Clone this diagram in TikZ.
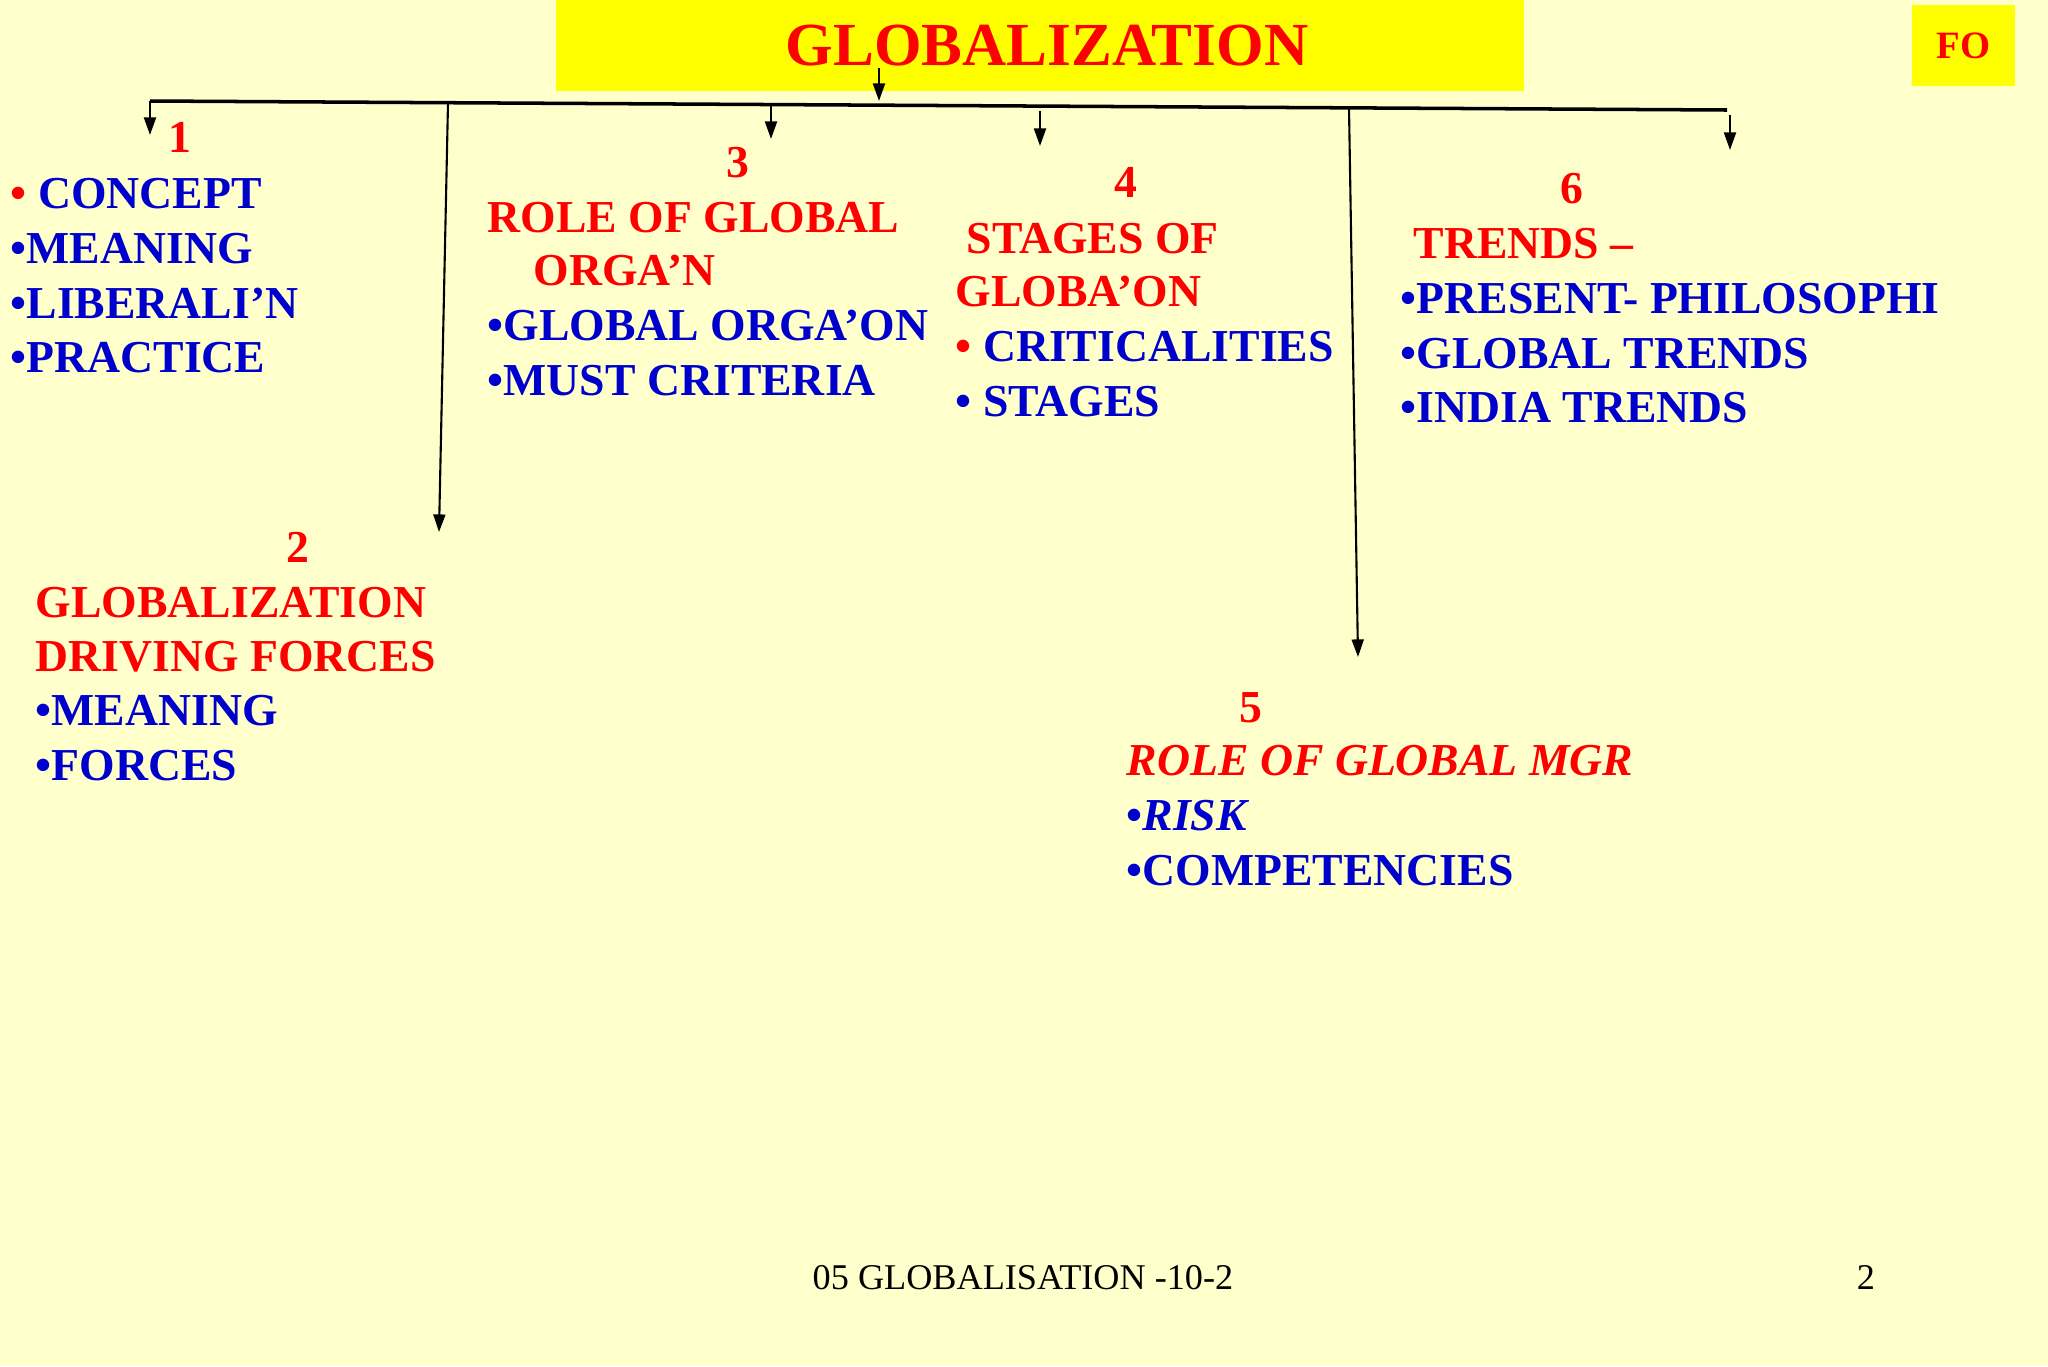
\documentclass[tikz,border=0pt]{standalone}
\usepackage{fontspec}
\setmainfont{Liberation Serif}
\usetikzlibrary{arrows.meta}
\definecolor{slidebg}{RGB}{255,255,204}
\definecolor{titleyellow}{RGB}{255,255,0}
\definecolor{headred}{RGB}{255,0,0}
\definecolor{itemblue}{RGB}{0,0,204}

\tikzset{
  hdline/.style={anchor=base west, inner sep=0pt, text=headred, font=\fontsize{13}{15.6}\selectfont\bfseries},
  itline/.style={hdline, text=itemblue},
  numlbl/.style={hdline, anchor=base},
  link/.style={-{Triangle[length=5pt,width=3.4pt]}, line width=0.6pt},
}

\begin{document}
\begin{tikzpicture}[x=0.01cm,y=-0.01cm]
            \fill[slidebg] (0,0) rectangle (2048,1366);
            \useasboundingbox (0,0) rectangle (2048,1366);

            % title boxes
            \node[fill=titleyellow, minimum width=9.68cm, minimum height=0.91cm, inner sep=0pt,
                  text=headred, font=\fontsize{17.4}{20}\selectfont\bfseries] (title) at (1040,45.5) {\kern0.14cm GLOBALIZATION};
            \node[fill=titleyellow, minimum width=1.03cm, minimum height=0.81cm, inner sep=0pt,
                  text=headred, font=\fontsize{11}{13}\selectfont\bfseries] (fo) at (1963.5,45.5) {FO};

            % bar and branch points
            \coordinate (t0) at (879,68);
            \coordinate (t1) at (879,101);
            \coordinate (barL) at (150,101);
            \coordinate (barR) at (1727,110);
            \coordinate (b2) at (448,103);
            \coordinate (b3) at (771,105);
            \coordinate (b4) at (1040,111);
            \coordinate (b5) at (1349,108);
            \coordinate (b6) at (1730,115);
            \coordinate (e1) at (150,135);
            \coordinate (e2) at (439,532);
            \coordinate (e3) at (771,139);
            \coordinate (e4) at (1040,146);
            \coordinate (e5) at (1358,657);
            \coordinate (e6) at (1730,150);

            \draw[line width=1pt] (barL) -- (barR);
            \draw[link] (t0) -- (t1);
            \draw[link] (barL) -- (e1);
            \draw[link] (b2) -- (e2);
            \draw[link] (b3) -- (e3);
            \draw[link] (b4) -- (e4);
            \draw[link] (b5) -- (e5);
            \draw[link] (b6) -- (e6);

            % 1
            \node[numlbl] (n1) at (180,152) {1};
            \node[itline] (n1a) at (10,208) {{\color{headred}•} CONCEPT};
            \node[itline] (n1b) at (10,263) {•MEANING};
            \node[itline] (n1c) at (10,318) {•LIBERALI’N};
            \node[itline] (n1d) at (10,372) {•PRACTICE};

            % 2
            \node[numlbl] (n2) at (298,562) {2};
            \node[hdline] (n2a) at (35,617) {GLOBALIZATION};
            \node[hdline] (n2b) at (35,671) {DRIVING FORCES};
            \node[itline] (n2c) at (35,725) {•MEANING};
            \node[itline] (n2d) at (35,780) {•FORCES};

            % 3
            \node[numlbl] (n3) at (738,177) {3};
            \node[hdline] (n3a) at (487,232) {ROLE OF GLOBAL};
            \node[hdline] (n3b) at (533,285) {ORGA’N};
            \node[itline] (n3c) at (487,340) {•GLOBAL ORGA’ON};
            \node[itline] (n3d) at (487,395) {•MUST CRITERIA};

            % 4
            \node[numlbl] (n4) at (1126,197) {4};
            \node[hdline] (n4a) at (966,253) {STAGES OF};
            \node[hdline] (n4b) at (955,306) {GLOBA’ON};
            \node[itline] (n4c) at (955,361) {{\color{headred}•} CRITICALITIES};
            \node[itline] (n4d) at (955,416) {• STAGES};

            % 5
            \node[numlbl] (n5) at (1251,722) {5};
            \node[hdline, font=\fontsize{13}{15.6}\selectfont\bfseries\itshape] (n5a) at (1126,775) {ROLE OF GLOBAL MGR};
            \node[itline] (n5b) at (1126,830) {•\textit{RISK}};
            \node[itline] (n5c) at (1126,885) {•COMPETENCIES};

            % 6
            \node[numlbl] (n6) at (1572,203) {6};
            \node[hdline] (n6a) at (1413,258) {TRENDS –};
            \node[itline] (n6b) at (1400,313) {•PRESENT- PHILOSOPHI};
            \node[itline] (n6c) at (1400,368) {•GLOBAL TRENDS};
            \node[itline] (n6d) at (1400,422) {•INDIA TRENDS};

            % footer
            \node[anchor=base, inner sep=0pt, font=\fontsize{10.3}{12}\selectfont] (foot) at (1023,1289) {05 GLOBALISATION -10-2};
            \node[anchor=base, inner sep=0pt, font=\fontsize{10.3}{12}\selectfont] (page) at (1866,1289) {2};
        \end{tikzpicture}
\end{document}
